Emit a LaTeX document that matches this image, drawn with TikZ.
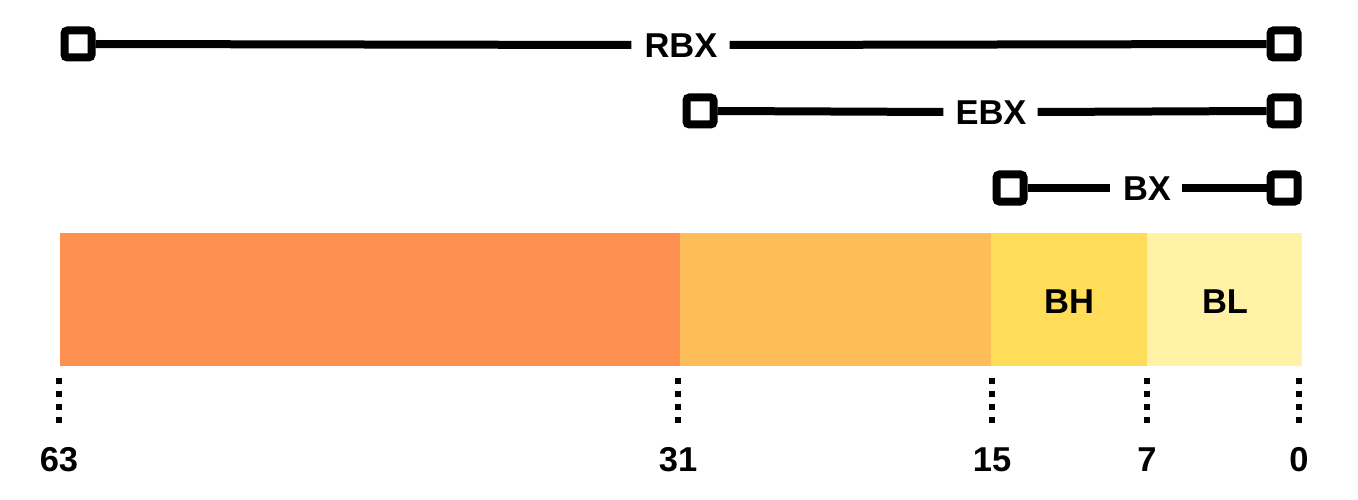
\documentclass[tikz,border=0pt]{standalone}
\usepackage{fontspec}
\setmainfont{Liberation Sans}
\definecolor{cA}{RGB}{254,145,80}
\definecolor{cB}{RGB}{253,190,90}
\definecolor{cC}{RGB}{255,221,88}
\definecolor{cD}{RGB}{255,241,165}
\tikzset{
  sq/.style={draw=black,fill=white,line width=8pt,rounded corners=3pt,minimum size=27pt,inner sep=0pt},
  lbl/.style={font=\fontsize{34.5}{34.5}\selectfont\bfseries,inner sep=0pt,text height=25pt,text depth=0pt},
  span/.style={line width=8pt},
  tick/.style={line width=6pt,dash pattern=on 6pt off 7pt},
  seg/.style={draw=none,inner sep=0pt,anchor=north west}
}
\begin{document}
\begin{tikzpicture}[x=1pt,y=-1pt]
\useasboundingbox (0,0) rectangle (1358,500);
% bar segments
\node[seg,fill=cA,minimum width=620pt,minimum height=133pt] (s63) at (60,233) {};
\node[seg,fill=cB,minimum width=311pt,minimum height=133pt] (s31) at (680,233) {};
\node[seg,fill=cC,minimum width=156pt,minimum height=133pt] (s15) at (991,233) {};
\node[seg,fill=cD,minimum width=155pt,minimum height=133pt] (s7) at (1147,233) {};
\node[lbl] (bh) at (1069,301) {BH};
\node[lbl] (bl) at (1225,301) {BL};
% RBX
\node[sq] (rl) at (78,44) {};
\node[sq] (rr) at (1284,44) {};
\node[lbl] (rbx) at (681,45) {RBX};
\draw[span] (rl.east) -- ([xshift=-13pt]rbx.west);
\draw[span] ([xshift=12pt]rbx.east) -- (rr.west);
% EBX
\node[sq] (el) at (700,111) {};
\node[sq] (er) at (1284,111) {};
\node[lbl] (ebx) at (991,112) {EBX};
\draw[span] (el.east) -- ([xshift=-12pt]ebx.west);
\draw[span] ([xshift=11pt]ebx.east) -- (er.west);
% BX
\node[sq] (bxl) at (1010,188) {};
\node[sq] (bxr) at (1284,188) {};
\node[lbl] (bx) at (1147,188) {BX};
\draw[span] (bxl.east) -- ([xshift=-13pt]bx.west);
\draw[span] ([xshift=11pt]bx.east) -- (bxr.west);
% ticks
\foreach \n/\x in {63/59,31/678,15/992,7/1147,0/1299}{
  \coordinate (t\n a) at (\x,378);
  \coordinate (t\n b) at (\x,426);
  \draw[tick] (t\n a) -- (t\n b);
  \node[lbl] (n\n) at (\x,459) {\n};
}
\end{tikzpicture}
\end{document}
